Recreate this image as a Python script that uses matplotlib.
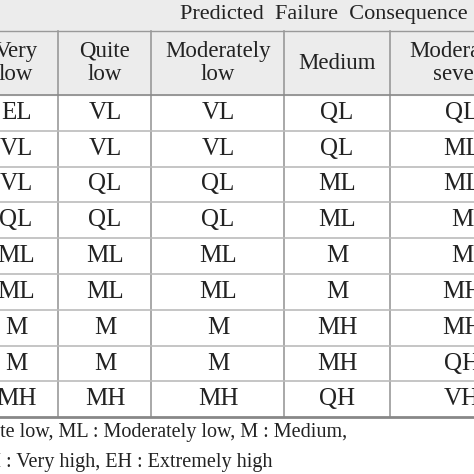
import matplotlib
matplotlib.use("Agg")
import matplotlib.pyplot as plt

headers = ["Very\nlow", "Quite\nlow", "Moderately\nlow", "Medium", "Moderately\nsevere"]
col1 = ["EL", "VL", "VL", "QL", "ML", "ML", "M", "M", "MH"]
col2 = ["VL", "VL", "QL", "QL", "ML", "ML", "M", "M", "MH"]
col3 = ["VL", "VL", "QL", "QL", "ML", "ML", "M", "M", "MH"]
col4 = ["QL", "QL", "ML", "ML", "M", "M", "MH", "MH", "QH"]
col5 = ["QL", "ML", "ML", "M", "M", "MH", "MH", "QH", "VH"]
title = "Predicted  Failure  Consequence"
notes = ["QL : Quite low, ML : Moderately low, M : Medium,",
         "VH : Very high, EH : Extremely high"]

cols = [col1, col2, col3, col4, col5]
xc = [16, 105, 218, 337, 462]
vlines = [58, 151, 284, 390]
row_top, row_h, nrows = 95, 35.8, 9

fig = plt.figure(figsize=(4.74, 4.74), dpi=100)
ax = fig.add_axes([0, 0, 1, 1])
ax.set_xlim(0, 474); ax.set_ylim(474, 0); ax.axis("off")
ax.add_patch(plt.Rectangle((0, 0), 474, row_top, color="#ececec", zorder=0))
fam = ["Liberation Serif", "DejaVu Serif"]
ax.text(180, 14, title, ha="left", va="center", fontsize=16, family=fam, color="#222")
ax.plot([0, 474], [31, 31], color="#999", lw=1)
for x in vlines:
    ax.plot([x, x], [31, row_top + nrows * row_h], color="#999", lw=1.2)
for i in range(nrows + 1):
    y = row_top + i * row_h
    ax.plot([0, 474], [y, y], color="#888" if i in (0, nrows) else "#bbb",
            lw=2 if i == nrows else 1.2)
for x, h in zip(xc, headers):
    ax.text(x, 63, h, ha="center", va="center", fontsize=16.5, family=fam,
            color="#222", linespacing=1.15)
for x, c in zip(xc, cols):
    for i, v in enumerate(c):
        ax.text(x, row_top + (i + 0.5) * row_h, v, ha="center", va="center",
                fontsize=18, family=fam, color="#222")
ax.text(347, 433, notes[0], ha="right", va="center", fontsize=14.5, family=fam, color="#222")
ax.text(273, 462, notes[1], ha="right", va="center", fontsize=14.5, family=fam, color="#222")
fig.savefig("out.png", dpi=100)
